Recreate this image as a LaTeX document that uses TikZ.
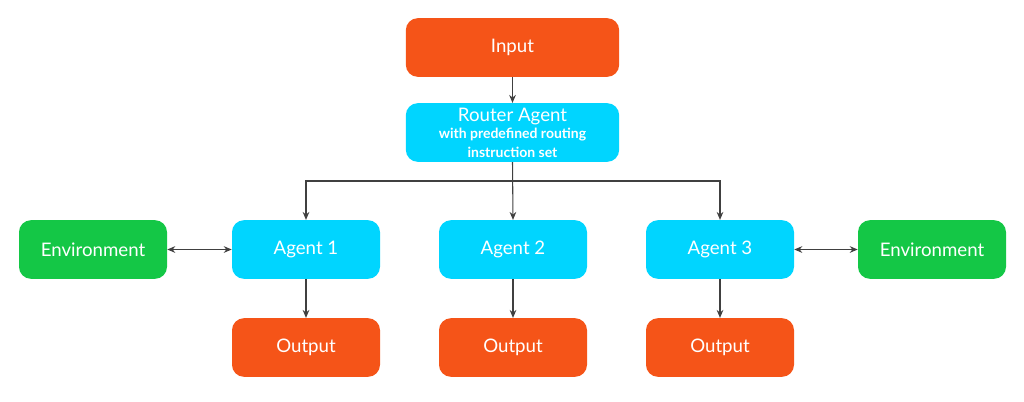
\documentclass[tikz,border=0pt]{standalone}
\usepackage{fontspec}
\setmainfont{Lato}
\usetikzlibrary{arrows.meta}
\definecolor{org}{HTML}{F55418}
\definecolor{cyn}{HTML}{00D5FF}
\definecolor{grn}{HTML}{14C746}
\newcommand\smallb{\bfseries\fontsize{10.5}{12}\selectfont}
\begin{document}
\begin{tikzpicture}[x=0.75pt,y=-0.75pt,
 box/.style={rounded corners=9pt,minimum width=111pt,minimum height=44pt,inner sep=0pt,text=white,font=\fontsize{14}{16}\selectfont,align=center},
 arr/.style={-{Stealth[length=6pt,width=5pt]},draw=black!75,line width=0.8pt},
 darr/.style={{Stealth[length=6pt,width=5pt]}-{Stealth[length=6pt,width=5pt]},draw=black!75,line width=0.8pt}]
\path[use as bounding box] (0,0) rectangle (1024,401);
\node[box,fill=org,minimum width=160pt] (in) at (512.5,47.5) {Input};
\node[box,fill=cyn,minimum width=160pt] (r) at (512.5,132.5) {Router Agent\\[-3pt]\smallb with predefined routing\\[-2pt]\smallb instruction set};
\node[box,fill=cyn] (a1) at (306,249.5) {Agent 1};
\node[box,fill=cyn] (a2) at (513,249.5) {Agent 2};
\node[box,fill=cyn] (a3) at (720,249.5) {Agent 3};
\node[box,fill=grn] (e1) at (93,249.5) {Environment};
\node[box,fill=grn] (e3) at (932,249.5) {Environment};
\node[box,fill=org] (o1) at (306,347.5) {Output};
\node[box,fill=org] (o2) at (513,347.5) {Output};
\node[box,fill=org] (o3) at (720,347.5) {Output};
\coordinate (j) at (513,181);
\draw[arr] (in) -- (r);
\draw[arr] (r.south) -- (a2.north);
\draw[arr] (j) -| (a1.north);
\draw[arr] (j) -| (a3.north);
\draw[darr] (e1) -- (a1);
\draw[darr] (a3) -- (e3);
\draw[arr] (a1) -- (o1);
\draw[arr] (a2) -- (o2);
\draw[arr] (a3) -- (o3);
\end{tikzpicture}
\end{document}
